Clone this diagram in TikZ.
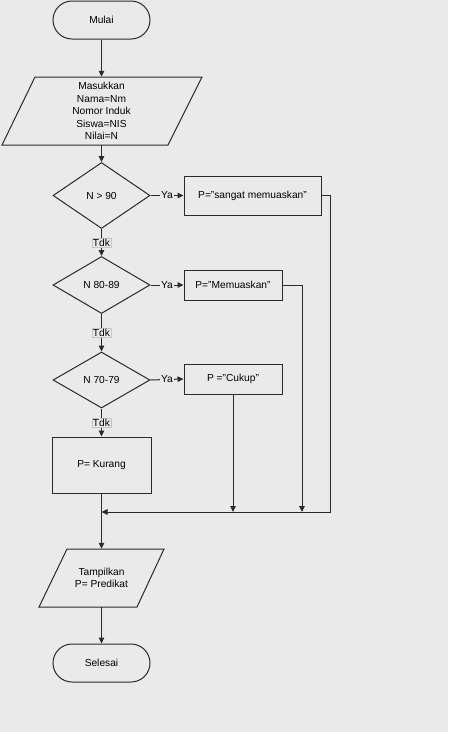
\documentclass[tikz,border=0pt]{standalone}
\usepackage{fontspec}
\setmainfont{Liberation Sans}
\usetikzlibrary{shapes.geometric,arrows.meta}
\definecolor{bg}{HTML}{EAEAEA}
\definecolor{ln}{HTML}{2A2A2A}
\tikzset{
  every node/.style={font=\fontsize{10.2}{12.6}\selectfont, text=black},
  term/.style={draw=ln, line width=1pt, rounded corners=19pt, minimum width=97pt, minimum height=38pt, inner sep=0pt},
  proc/.style={draw=ln, line width=1pt, inner sep=0pt},
  dec/.style={draw=ln, line width=1pt, diamond, minimum width=97pt, inner sep=0pt},
  io/.style={inner sep=0pt, align=center},
  conn/.style={draw=ln, line width=1pt},
  arr/.style={conn, -{Triangle[length=6pt,width=5.5pt]}},
  yalbl/.style={fill=bg, inner sep=1pt},
  tdklbl/.style={fill=bg, draw=gray!45, line width=0.4pt, inner sep=1pt}
}
\begin{document}
\begin{tikzpicture}[x=1pt,y=-1pt]
\fill[bg] (0,0) rectangle (448,732);
\useasboundingbox (0,0) rectangle (448,732);

\node[term] (start) at (101.5,20) {Mulai};

\node[io, minimum width=130pt, minimum height=68pt] (in) at (101.5,111) {Masukkan\\Nama=Nm\\Nomor Induk\\Siswa=NIS\\Nilai=N};
\draw[conn] (35,77) -- (202,77) -- (168,145) -- (2,145) -- cycle;

\node[dec, minimum height=66pt] (d1) at (101.5,195.5) {N > 90};
\node[dec, minimum height=57pt] (d2) at (101.5,285) {N 80-89};
\node[dec, minimum height=56pt] (d3) at (101.5,380) {N 70-79};

\node[proc, minimum width=137pt, minimum height=39pt] (b1) at (252.5,195.5) {P="sangat memuaskan"};
\node[proc, minimum width=98pt, minimum height=30pt] (b2) at (233,285) {P="Memuaskan"};
\node[proc, minimum width=98pt, minimum height=30pt] (b3) at (233,379) {P ="Cukup"};
\node[proc, minimum width=99pt, minimum height=56pt] (kur) at (101.5,465) {P= Kurang};

\coordinate (m) at (101.5,512);
\coordinate (c1) at (330,512);
\coordinate (c2) at (302,512);
\coordinate (c3) at (233,512);

\node[io, minimum width=80pt, minimum height=58pt] (out) at (101.5,578) {Tampilkan\\P= Predikat};
\draw[conn] (67,549) -- (164,549) -- (137,607) -- (39,607) -- cycle;

\node[term] (end) at (101.5,663) {Selesai};

\draw[arr] (start) -- (in.north);
\draw[arr] (in.south) -- (d1.north);
\draw[arr] (d1.east) -- node[yalbl] {Ya} (b1.west);
\draw[arr] (d2.east) -- node[yalbl] {Ya} (b2.west);
\draw[arr] (d3.east) -- node[yalbl] {Ya} (b3.west);
\draw[arr] (d1.south) -- node[tdklbl] {Tdk} (d2.north);
\draw[arr] (d2.south) -- node[tdklbl] {Tdk} (d3.north);
\draw[arr] (d3.south) -- node[tdklbl] {Tdk} (kur.north);
\draw[arr] (b1.east) -| (c1) -- (m);
\draw[arr] (b2.east) -| (c2);
\draw[arr] (b3.south) -- (c3);
\draw[conn] (kur.south) -- (m);
\draw[arr] (m) -- (out.north);
\draw[arr] (out.south) -- (end.north);
\end{tikzpicture}
\end{document}
